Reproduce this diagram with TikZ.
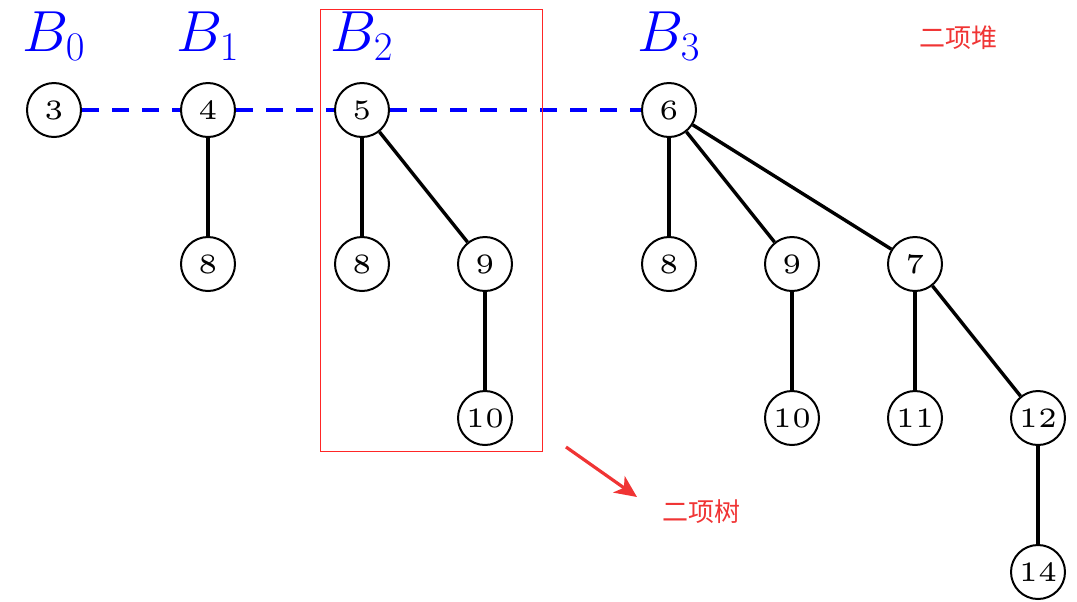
\documentclass[tikz,border=0pt]{standalone}
\usepackage{fix-cm}
\usepackage{graphicx}
\usepackage{fontspec}
\newfontfamily\cjk{Noto Sans CJK SC}
\usetikzlibrary{arrows.meta, positioning}
\definecolor{notered}{RGB}{240,52,52}
\newcommand\knum[1]{\scalebox{2.8}{\fontsize{5}{6}\selectfont #1}}
\tikzset{key/.style={circle,draw,line width=1pt,minimum size=27pt,inner sep=0pt},
  link/.style={line width=1.7pt},
  rootlist/.style={blue,line width=2pt,dash pattern=on 8.5pt off 6.5pt},
  order/.style={blue,inner sep=0pt,font=\fontsize{29}{31}\selectfont},
  note/.style={notered,inner sep=0pt,font=\cjk\fontsize{13}{15}\selectfont},
  frame/.style={draw=red!85,line width=0.5pt},
  pointer/.style={notered,line width=1.6pt,-{Stealth[length=11pt,width=10pt,inset=3pt]}}}

\begin{document}
\begin{tikzpicture}[x=0.5pt,y=-0.5pt,node distance=49pt and 33.5pt]
\useasboundingbox (0,0) rectangle (1077,601);
% roots of the heap
\node[key] (r0) at (54,110) {\knum{3}};
\node[key] (r1) at (208,110) {\knum{4}};
\node[key] (r2) at (362,110) {\knum{5}};
\node[key] (r3) at (669,110) {\knum{6}};
\node[order] (b0) at (54,36) {$B_0$};
\node[order] (b1) at (208,36) {$B_1$};
\node[order] (b2) at (362,36) {$B_2$};
\node[order] (b3) at (669,36) {$B_3$};
% B1
\node[key, below=of r1] (t1a) {\knum{8}};
% B2
\node[key, below=of r2] (t2a) {\knum{8}};
\node[key, right=of t2a] (t2b) {\knum{9}};
\node[key, below=of t2b] (t2c) {\knum{10}};
% B3
\node[key, below=of r3] (t3a) {\knum{8}};
\node[key, right=of t3a] (t3b) {\knum{9}};
\node[key, right=of t3b] (t3c) {\knum{7}};
\node[key, below=of t3b] (t3d) {\knum{10}};
\node[key, below=of t3c] (t3e) {\knum{11}};
\node[key, right=of t3e] (t3f) {\knum{12}};
\node[key, below=of t3f] (t3g) {\knum{14}};
\draw[rootlist] (r0) -- (r1);
\draw[rootlist] (r1) -- (r2);
\draw[rootlist] (r2) -- (r3);
\draw[link] (r1) -- (t1a);
\draw[link] (r2) -- (t2a);
\draw[link] (r2) -- (t2b);
\draw[link] (t2b) -- (t2c);
\draw[link] (r3) -- (t3a);
\draw[link] (r3) -- (t3b);
\draw[link] (r3) -- (t3c);
\draw[link] (t3b) -- (t3d);
\draw[link] (t3c) -- (t3e);
\draw[link] (t3c) -- (t3f);
\draw[link] (t3f) -- (t3g);
% notes
\draw[frame] (320,9) rectangle (542,451);
\node[note] (heap) at (958,38) {二项堆};
\node[note] (tree) at (701,512) {二项树};
\coordinate (from) at (566,447);
\coordinate (to) at (637,497);
\draw[pointer] (from) -- (to);
\end{tikzpicture}
\end{document}
